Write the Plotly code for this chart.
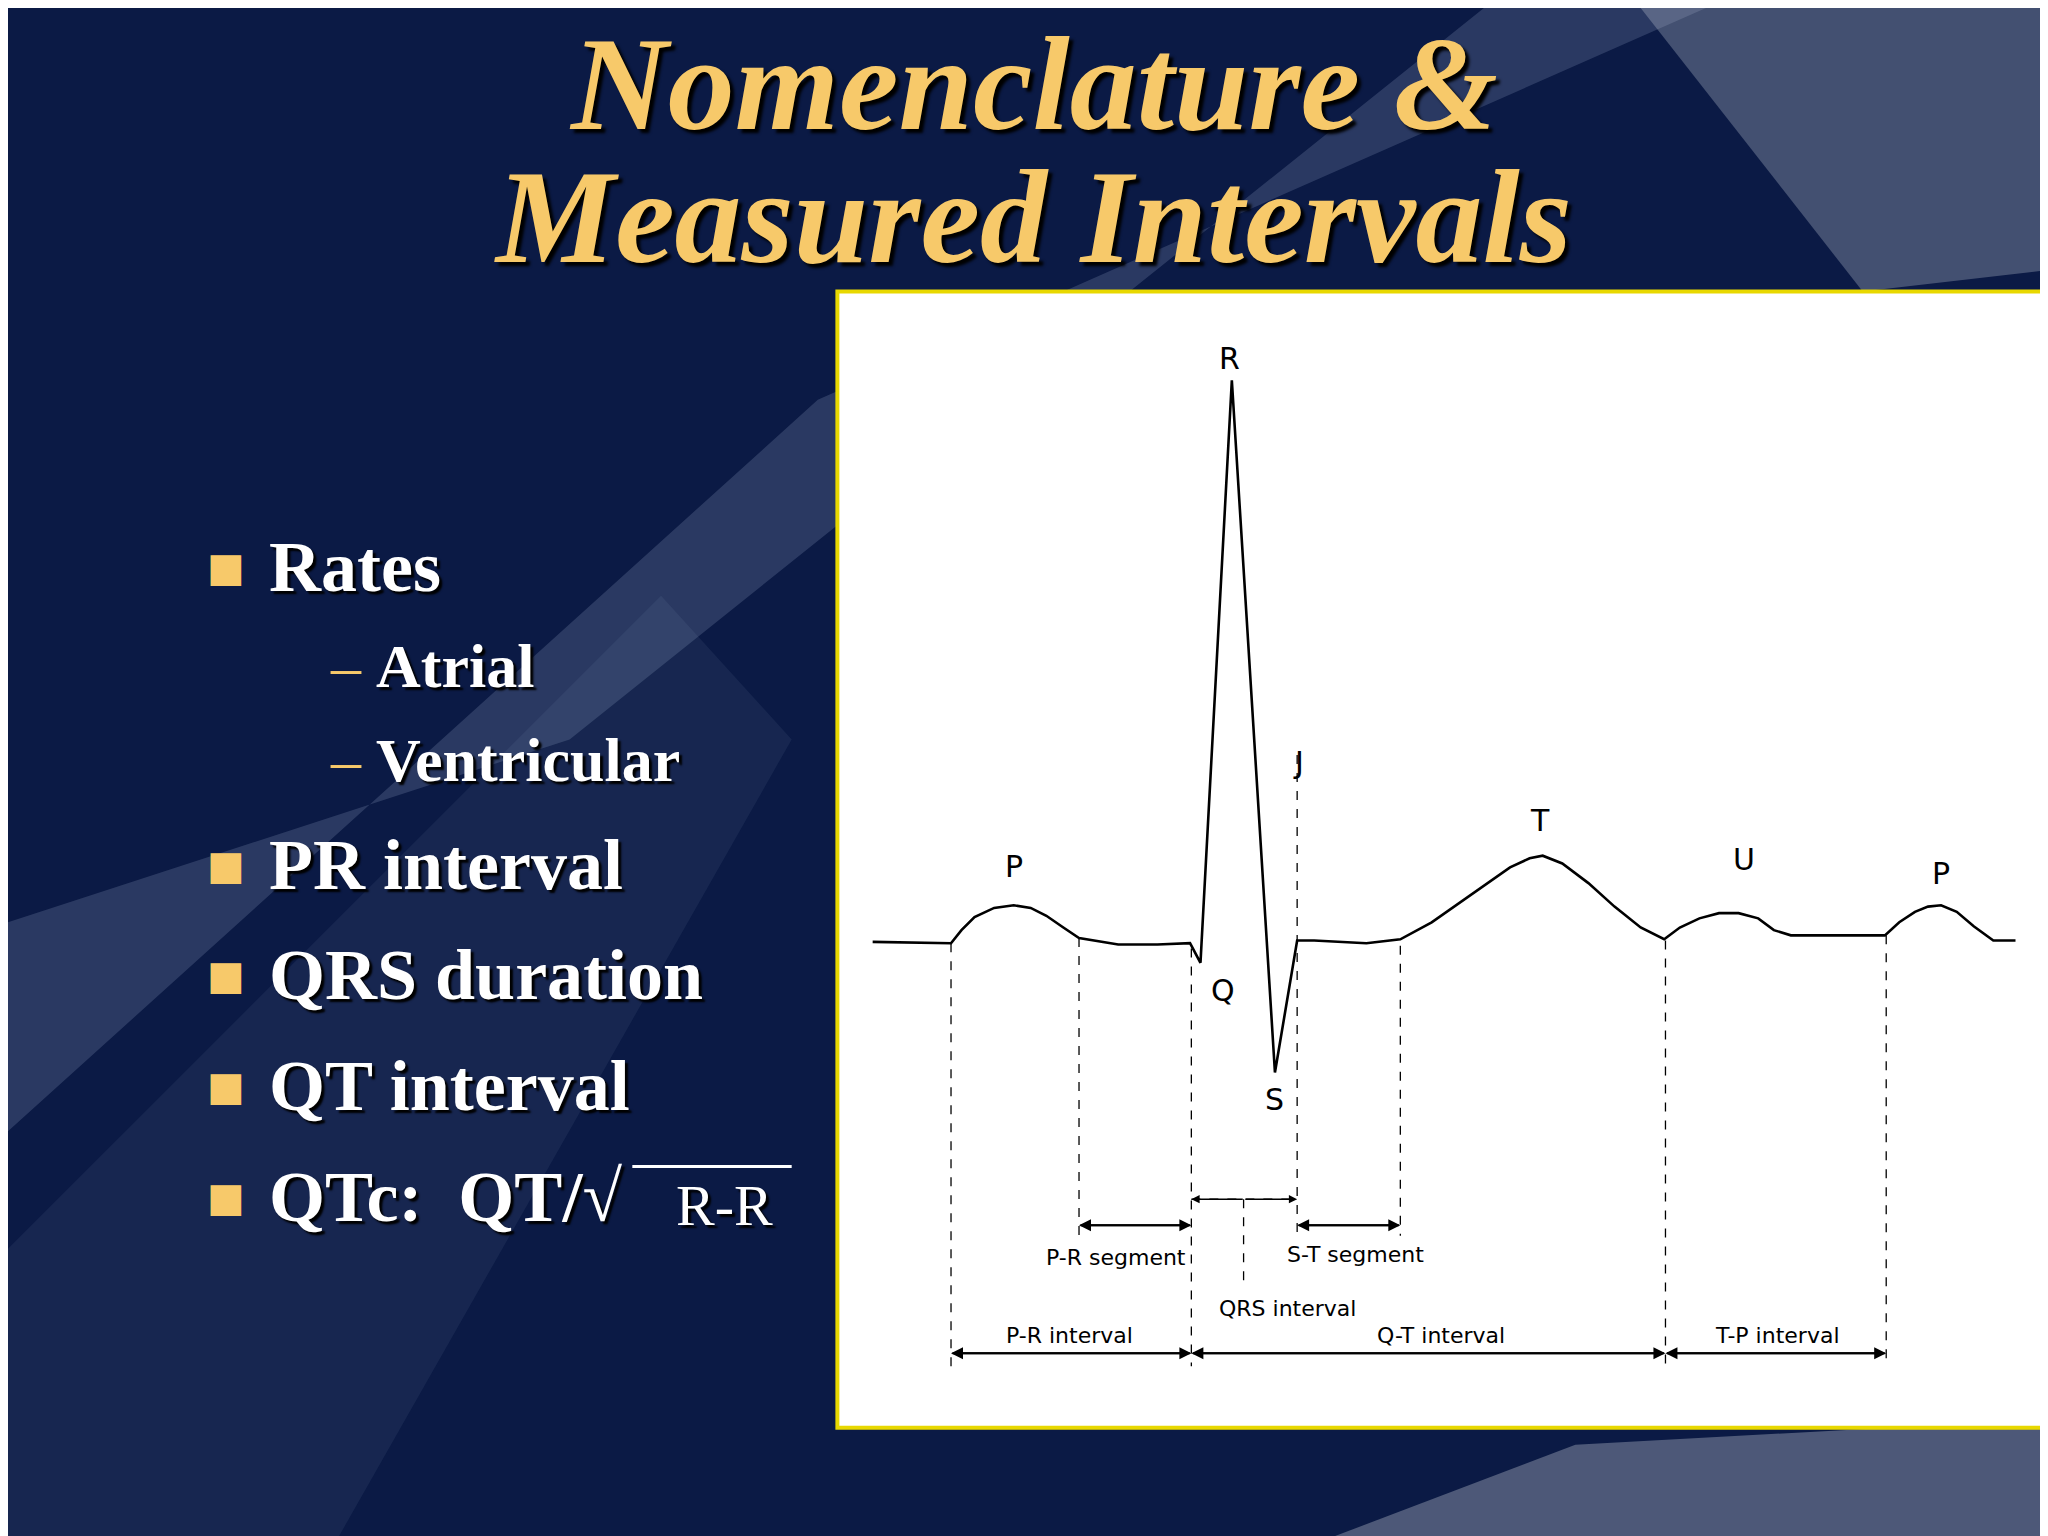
import plotly.graph_objects as go

W, H = 1568, 1176  # reference design grid
def px(x): return x / W
def py(y): return 1 - y / H

# ECG trace (design px)
ecg_x = [662,722,730,740,755,770,783,795,808,820,850,880,905,913,937,970,987,1000,1040,1066,1090,1110,1130,1150,1165,1175,1190,1210,1230,1250,1268,1280,1295,1310,1325,1340,1352,1365,1437,1448,1460,1470,1480,1492,1505,1520,1537]
ecg_y = [715,716,706,696,689,687,689,695,704,712,717,717,716,731,285,815,714,714,716,713,700,686,672,658,651,649,655,670,688,704,713,704,697,693,693,697,706,710,710,700,692,688,687,692,703,714,714]

dash_x = [722,820,906,946,987,1066,1269,1438]
dash_y0 = [716,712,720,912,572,718,714,710]
dash_y1 = [1040,940,1040,975,940,940,1040,1040]

arrows = [(820,906,932),(987,1066,932),(722,906,1030),(906,1269,1030),(1269,1438,1030)]
wave_labels = ["P","R","J","T","U","P","Q","S"]
wave_lx = [770,935,988,1173,1329,1480,930,970]
wave_ly = [657,268,578,622,652,663,752,836]
int_labels = ["P-R segment","S-T segment","QRS interval","P-R interval","Q-T interval","T-P interval"]
int_lx = [848,1032,980,813,1097,1355]
int_ly = [957,954,996,1016,1016,1016]

title_lines = ["Nomenclature &", "Measured Intervals"]
title_y = [58, 160]
bullets = ["Rates","PR interval","QRS duration","QT interval","QTc:  QT/√"]
bullet_y = [428,656,740,825,910]
subs = ["Atrial","Ventricular"]
sub_y = [504,576]

fig = go.Figure()
fig.add_trace(go.Scatter(x=ecg_x, y=ecg_y, mode="lines", line=dict(color="black", width=2.6), hoverinfo="skip"))
for x, a, b in zip(dash_x, dash_y0, dash_y1):
    fig.add_trace(go.Scatter(x=[x, x], y=[a, b], mode="lines", line=dict(color="black", width=1.3, dash="dash"), hoverinfo="skip"))
fig.add_trace(go.Scatter(x=[906, 987], y=[912, 912], mode="lines", line=dict(color="black", width=1.5, dash="dash"), hoverinfo="skip"))

shapes = []
shapes.append(dict(type="path", xref="paper", yref="paper",
                   path=f"M 0 {py(860)} L {px(620)} {py(300)} L {px(1300)} 1 L {px(1130)} 1 L {px(430)} {py(560)} L 0 {py(700)} Z",
                   fillcolor="rgba(170,185,215,0.20)", line_width=0, layer="below"))
shapes.append(dict(type="path", xref="paper", yref="paper",
                   path=f"M 0 {py(1176)} L 0 {py(950)} L {px(500)} {py(450)} L {px(600)} {py(560)} L {px(250)} {py(1176)} Z",
                   fillcolor="rgba(170,185,215,0.08)", line_width=0, layer="below"))
shapes.append(dict(type="path", xref="paper", yref="paper",
                   path=f"M {px(1000)} 0 L {px(1568)} 0 L {px(1568)} {py(1080)} L {px(1200)} {py(1100)} Z",
                   fillcolor="rgba(200,205,215,0.35)", line_width=0, layer="below"))
shapes.append(dict(type="path", xref="paper", yref="paper",
                   path=f"M {px(1250)} 1 L {px(1568)} 1 L {px(1568)} {py(200)} L {px(1420)} {py(217)} Z",
                   fillcolor="rgba(200,205,215,0.30)", line_width=0, layer="below"))
shapes.append(dict(type="rect", xref="paper", yref="paper", x0=px(635), x1=px(1570), y0=py(1087), y1=py(217),
                   fillcolor="white", line=dict(color="#e8d800", width=4), layer="below"))
shapes.append(dict(type="line", xref="paper", yref="paper", x0=px(478), x1=px(600), y0=py(887), y1=py(887),
                   line=dict(color="white", width=3)))

ann = []
for t, y in zip(title_lines, title_y):
    ann.append(dict(text="<i><b>"+t+"</b></i>", x=px(785), y=py(y), xref="paper", yref="paper", yanchor="middle",
                    showarrow=False, font=dict(family="Liberation Serif", size=134, color="#f7c96a", shadow="4px 4px 3px black")))
for t, y in zip(bullets, bullet_y):
    ann.append(dict(text="■", x=px(151), y=py(y), xref="paper", yref="paper", showarrow=False, yanchor="middle",
                    font=dict(family="DejaVu Sans", size=40, color="#f7c96a")))
    ann.append(dict(text="<b>"+t+"</b>", x=px(198), y=py(y), xref="paper", yref="paper", xanchor="left", yanchor="middle",
                    showarrow=False, font=dict(family="Liberation Serif", size=72, color="white", shadow="3px 3px 2px black")))
ann.append(dict(text="R-R", x=px(510), y=py(917), xref="paper", yref="paper", xanchor="left", yanchor="middle",
                showarrow=False, font=dict(family="Liberation Serif", size=58, color="white", shadow="3px 3px 2px black")))
for t, y in zip(subs, sub_y):
    ann.append(dict(text="–", x=px(245), y=py(y), xref="paper", yref="paper", showarrow=False, yanchor="middle",
                    font=dict(family="Liberation Serif", size=60, color="#f7c96a")))
    ann.append(dict(text="<b>"+t+"</b>", x=px(280), y=py(y), xref="paper", yref="paper", xanchor="left", yanchor="middle",
                    showarrow=False, font=dict(family="Liberation Serif", size=62, color="white", shadow="3px 3px 2px black")))
for t, x, y in zip(wave_labels, wave_lx, wave_ly):
    ann.append(dict(text=t, x=x, y=y, showarrow=False, font=dict(family="DejaVu Sans", size=30, color="black")))
for t, x, y in zip(int_labels, int_lx, int_ly):
    ann.append(dict(text=t, x=x, y=y, showarrow=False, font=dict(family="DejaVu Sans", size=22, color="black")))
for a, b, y in arrows:
    for s, e in ((a, b), (b, a)):
        ann.append(dict(x=e, y=y, ax=s, ay=y, axref="x", ayref="y", text="", showarrow=True,
                        arrowhead=2, arrowsize=1.2, arrowwidth=2, arrowcolor="black"))
for s, e in ((906, 987), (987, 906)):
    ann.append(dict(x=e, y=912, ax=(s+e)/2, ay=912, axref="x", ayref="y", text="", showarrow=True,
                    arrowhead=2, arrowsize=1.1, arrowwidth=1.5, arrowcolor="black"))

fig.update_layout(
    width=2048, height=1536, margin=dict(l=0, r=0, t=0, b=0),
    paper_bgcolor="#0b1a45", plot_bgcolor="rgba(0,0,0,0)", showlegend=False,
    xaxis=dict(domain=[px(635), 1], range=[635, 1568], visible=False),
    yaxis=dict(domain=[py(1087), py(217)], range=[1087, 217], visible=False),
    shapes=shapes, annotations=ann,
)
fig.write_html("out.html")
